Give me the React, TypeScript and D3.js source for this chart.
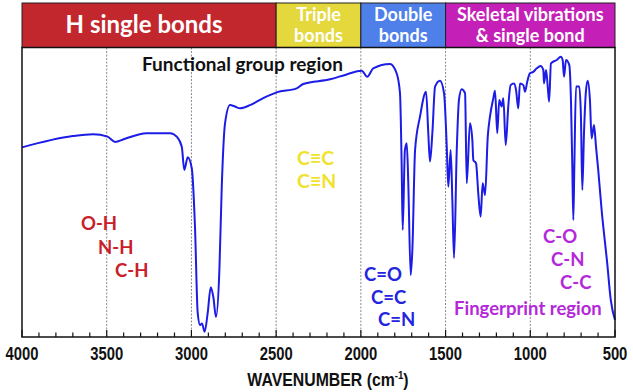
import { useEffect, useRef } from "react";
import * as d3 from "d3";

const WIDTH = 633;
const HEIGHT = 392;
const MARGIN = { top: 47.5, right: 18, bottom: 55, left: 22 };

// IR spectrum: [wavenumber, transmittance %]
const wavenumbers = [
  4000, 3700, 3580, 3495, 3450, 3400, 3265, 3125, 3087, 3057, 3042, 3022, 2998,
  2979, 2963, 2949, 2938, 2922, 2904, 2886, 2871, 2855, 2835, 2821, 2802, 2772,
  2743, 2713, 2654, 2576, 2497, 2379, 2340, 2182, 2084, 1995, 1962, 1927, 1828,
  1789, 1769, 1759, 1753, 1740, 1729, 1720, 1706, 1696, 1680, 1651, 1615, 1602,
  1592, 1578, 1562, 1533, 1509, 1493, 1484, 1470, 1460, 1450, 1434, 1421, 1405,
  1385, 1375, 1356, 1342, 1336, 1320, 1307, 1293, 1281, 1267, 1251, 1238, 1218,
  1208, 1195, 1183, 1169, 1159, 1145, 1130, 1116, 1096, 1084, 1071, 1061, 1041,
  1031, 1018, 1002, 982, 962, 939, 923, 919, 907, 897, 889, 878, 844, 820, 809,
  801, 789, 770, 760, 752, 746, 740, 730, 711, 701, 693, 683, 671, 661, 648, 638,
  624, 612, 599, 579, 546, 525, 500,
];
const transmittance = [
  65.5, 69.4, 70.0, 69.2, 67.4, 68.3, 70.4, 70.4, 69.2, 65.7, 57.7, 62.1, 58.3,
  38.1, 8.3, 4.1, 4.7, 1.8, 8.3, 17.2, 13.9, 6.9, 23.1, 51.9, 73.6, 80.1,
  79.6, 79.0, 80.1, 82.5, 84.5, 85.9, 87.4, 89.0, 90.7, 92.0, 89.9, 92.8, 94.3,
  91.1, 84.2, 58.8, 37.0, 64.6, 66.9, 53.1, 21.4, 30.1, 64.6, 76.1, 84.7, 70.4,
  60.6, 70.4, 86.5, 88.5, 84.2, 65.7, 51.9, 64.6, 47.3, 27.3, 64.6, 81.9, 85.6,
  84.2, 53.1, 73.8, 68.0, 61.1, 60.0, 49.6, 41.6, 53.1, 49.0, 69.2, 76.1, 82.5,
  85.1, 70.4, 81.9, 79.6, 82.5, 66.3, 79.6, 87.0, 87.6, 85.3, 79.0, 87.6, 87.0,
  84.7, 88.2, 91.1, 91.6, 92.8, 93.6, 92.2, 87.6, 92.2, 86.5, 81.3, 94.5, 95.7, 96.8, 95.7,
  89.9, 95.7, 94.0, 81.9, 58.8, 40.4, 58.8, 86.5, 86.5, 76.1, 50.8, 70.4, 85.3, 88.5, 81.9, 68.6,
  73.2, 65.7, 57.7, 43.9, 25.5, 12.8, 5.9,
];

const xTicks = [4000, 3500, 3000, 2500, 2000, 1500, 1000, 500];
const minorTicks = d3.range(500, 4001, 100);
const gridLines = [3500, 3000, 2500, 2000, 1500, 1000];

// header bands: [from, to] wavenumber, colour, text lines
const bandRanges = [
  [4000, 2500],
  [2500, 2000],
  [2000, 1500],
  [1500, 500],
];
const bandColors = ["#c3272e", "#e4d83c", "#4f80ea", "#c41fb6"];
const bandLabels = [
  ["H single bonds"],
  ["Triple", "bonds"],
  ["Double", "bonds"],
  ["Skeletal vibrations", "& single bond"],
];

const LABEL_FONT = "Lato, 'Open Sans', sans-serif";
const AXIS_FONT = "'Liberation Sans', Arial, sans-serif";

export default function App() {
  const axisRef = useRef<SVGGElement>(null);

  const plotBottom = HEIGHT - MARGIN.bottom;
  const x = d3
    .scaleLinear()
    .domain([4000, 500])
    .range([MARGIN.left, WIDTH - MARGIN.right]);
  const y = d3.scaleLinear().domain([0, 100]).range([plotBottom, MARGIN.top]);

  const points = wavenumbers.map((w, i) => [w, transmittance[i]] as [number, number]);
  const line = d3
    .line<[number, number]>()
    .x((d) => x(d[0]))
    .y((d) => y(d[1]))
    .curve(d3.curveMonotoneX);

  // axis ticks pointing up into the plot, drawn with d3
  useEffect(() => {
    const g = d3.select(axisRef.current);
    g.selectAll("*").remove();
    g.selectAll("line.minor")
      .data(minorTicks)
      .join("line")
      .attr("x1", (d) => x(d))
      .attr("x2", (d) => x(d))
      .attr("y1", plotBottom)
      .attr("y2", (d) => plotBottom - (d % 500 === 0 ? 7 : 4.5))
      .attr("stroke", "#111")
      .attr("stroke-width", 1.2);
    // condensed bold labels, squeezed horizontally
    g.selectAll("text.tick")
      .data(xTicks)
      .join("text")
      .attr("transform", (d) => `translate(${x(d)},359.5) scale(0.8,1)`)
      .attr("text-anchor", "middle")
      .attr("font-family", AXIS_FONT)
      .attr("font-weight", "bold")
      .attr("font-size", 18.5)
      .attr("fill", "#111")
      .text((d) => d);
  }, []);

  const headerTop = 3;

  return (
    <svg
      width={WIDTH}
      height={HEIGHT}
      style={{ position: "absolute", left: 0, top: 0, background: "#fff" }}
    >
      {/* header bands */}
      {bandRanges.map((r, i) => {
        const x0 = x(r[0]);
        const x1 = x(r[1]);
        const cx = (x0 + x1) / 2;
        const lines = bandLabels[i];
        return (
          <g key={i}>
            <rect
              x={x0}
              y={headerTop}
              width={x1 - x0}
              height={MARGIN.top - headerTop}
              fill={bandColors[i]}
              stroke="#222"
              strokeWidth={1}
            />
            {lines.length === 1 ? (
              <text
                x={cx - 5}
                y={33}
                textAnchor="middle"
                fill="#fff"
                fontFamily={LABEL_FONT}
                fontWeight="bold"
                fontSize={24}
              >
                {lines[0]}
              </text>
            ) : (
              lines.map((t, j) => (
                <text
                  key={j}
                  x={cx}
                  y={21 + j * 21}
                  textAnchor="middle"
                  fill="#fff"
                  fontFamily={LABEL_FONT}
                  fontWeight="bold"
                  fontSize={18}
                >
                  {t}
                </text>
              ))
            )}
          </g>
        );
      })}

      {/* dotted grid */}
      {gridLines.map((w) => (
        <line
          key={w}
          x1={x(w)}
          x2={x(w)}
          y1={MARGIN.top}
          y2={plotBottom}
          stroke="#8a8a8a"
          strokeWidth={1}
          strokeDasharray="2,1.5"
        />
      ))}

      {/* annotations */}
      <text x={142} y={71} fill="#111" fontFamily={LABEL_FONT} fontWeight="bold" fontSize={19}>
        Functional group region
      </text>
      <g fill="#c8202a" fontFamily={LABEL_FONT} fontWeight="bold" fontSize={18.5}>
        <text x={81} y={230}>O-H</text>
        <text x={98} y={254}>N-H</text>
        <text x={115} y={277}>C-H</text>
      </g>
      <g fill="#efe22c" fontFamily={LABEL_FONT} fontWeight="bold" fontSize={19.5}>
        <text x={297} y={165}>C≡C</text>
        <text x={297} y={188}>C≡N</text>
      </g>
      <g fill="#2323e0" fontFamily={LABEL_FONT} fontWeight="bold" fontSize={18.5}>
        <text x={364} y={281}>C=O</text>
        <text x={371} y={304}>C=C</text>
        <text x={378} y={326}>C=N</text>
      </g>
      <g fill="#b428da" fontFamily={LABEL_FONT} fontWeight="bold" fontSize={18.5}>
        <text x={543} y={243}>C-O</text>
        <text x={551} y={266}>C-N</text>
        <text x={560} y={289}>C-C</text>
        <text x={454} y={315}>Fingerprint region</text>
      </g>

      {/* spectrum */}
      <path
        d={line(points) ?? ""}
        fill="none"
        stroke="#1c1ce6"
        strokeWidth={2}
        strokeLinejoin="round"
      />

      {/* frame */}
      <rect
        x={MARGIN.left}
        y={MARGIN.top}
        width={WIDTH - MARGIN.right - MARGIN.left}
        height={plotBottom - MARGIN.top}
        fill="none"
        stroke="#111"
        strokeWidth={1.5}
      />
      <g ref={axisRef} />

      <text
        transform="translate(328,386) scale(0.88,1)"
        textAnchor="middle"
        fill="#111"
        fontFamily={AXIS_FONT}
        fontWeight="bold"
        fontSize={18}
      >
        WAVENUMBER (cm
        <tspan fontSize={11} dy={-7}>-1</tspan>
        <tspan dy={7}>)</tspan>
      </text>
    </svg>
  );
}
